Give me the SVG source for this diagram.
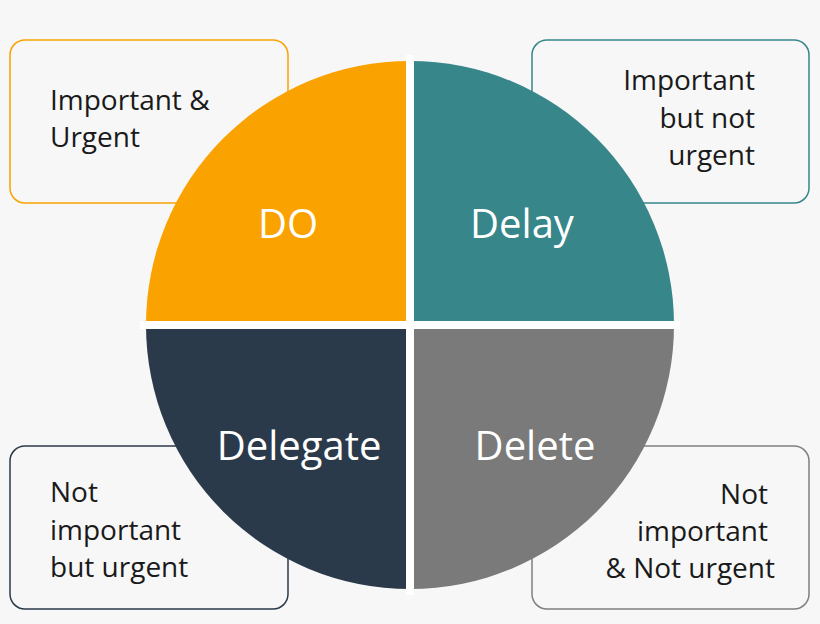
<svg xmlns="http://www.w3.org/2000/svg" width="820" height="624" viewBox="0 0 820 624">
<style>
.box{fill:none;stroke-width:1.5}
.t{font-family:"Open Sans",sans-serif;font-size:28px;fill:#1a1a1a}
.q{font-family:"Open Sans",sans-serif;font-size:40px;fill:#fff;text-anchor:middle}
</style>
<rect width="820" height="624" fill="#f7f7f7"/>
<g id="box-tl"><rect class="box" x="10" y="40" width="278" height="163" rx="15" stroke="#f9a200"/>
<text class="t" x="50" y="110">Important &amp;</text><text class="t" x="50" y="147">Urgent</text></g>
<g id="box-tr"><rect class="box" x="532" y="40" width="277" height="163" rx="15" stroke="#37868a"/>
<text class="t" x="755" y="90" text-anchor="end">Important</text><text class="t" x="755" y="128" text-anchor="end">but not</text><text class="t" x="755" y="165" text-anchor="end">urgent</text></g>
<g id="box-bl"><rect class="box" x="10" y="446" width="278" height="163" rx="15" stroke="#2b3a4a"/>
<text class="t" x="50" y="502">Not</text><text class="t" x="50" y="540">important</text><text class="t" x="50" y="577">but urgent</text></g>
<g id="box-br"><rect class="box" x="532" y="446" width="277" height="163" rx="15" stroke="#808080"/>
<text class="t" x="768" y="504" text-anchor="end">Not</text><text class="t" x="768" y="541" text-anchor="end">important</text><text class="t" x="775" y="578" text-anchor="end">&amp; Not urgent</text></g>
<g id="do"><path d="M410 325 H146 A264 264 0 0 1 410 61 Z" fill="#f9a200"/><text class="q" x="288" y="238">DO</text></g>
<g id="delay"><path d="M410 325 V61 A264 264 0 0 1 674 325 Z" fill="#37868a"/><text class="q" x="522" y="238">Delay</text></g>
<g id="delegate"><path d="M410 325 H146 A264 264 0 0 0 410 589 Z" fill="#2b3a4a"/><text class="q" x="299" y="460">Delegate</text></g>
<g id="delete"><path d="M410 325 V589 A264 264 0 0 0 674 325 Z" fill="#7a7a7a"/><text class="q" x="535" y="460">Delete</text></g>
<g id="gaps" stroke="#fff" stroke-width="8"><line x1="410" y1="55" x2="410" y2="595"/><line x1="140" y1="325" x2="680" y2="325"/></g>
</svg>
